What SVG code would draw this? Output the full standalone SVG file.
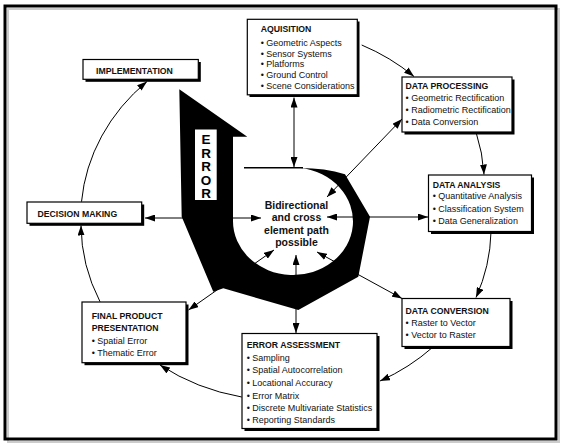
<svg xmlns="http://www.w3.org/2000/svg" width="569" height="447" viewBox="0 0 569 447">
<defs>
<marker id="ah" viewBox="0 0 10 7" refX="10" refY="3.5" markerWidth="10" markerHeight="7" markerUnits="userSpaceOnUse" orient="auto-start-reverse">
<path d="M0,0 L10,3.5 L0,7 z" fill="#000"/>
</marker>
<style>
.t{font-family:"Liberation Sans",Arial,sans-serif;font-weight:bold;font-size:8.7px;fill:#111}
.i{font-family:"Liberation Sans",Arial,sans-serif;font-size:9px;fill:#111}
.c{font-family:"Liberation Sans",Arial,sans-serif;font-weight:bold;font-size:10.5px;fill:#111;text-anchor:middle}
.e{font-family:"Liberation Sans",Arial,sans-serif;font-weight:bold;font-size:13.5px;fill:#000;text-anchor:middle}
.box{fill:#fff;stroke:#000;stroke-width:1.2}
.sh{fill:#000}
.arc{fill:none;stroke:#000;stroke-width:1;marker-end:url(#ah)}
.two{fill:none;stroke:#000;stroke-width:1;marker-start:url(#ah);marker-end:url(#ah)}
</style>
</defs>
<rect width="569" height="447" fill="#fff"/>
<rect x="8" y="9" width="551" height="433" fill="none" stroke="#ccc" stroke-width="2"/>
<rect x="5" y="6" width="551" height="433" fill="none" stroke="#000" stroke-width="3"/>

<g id="error-arrow">
<path d="M179.3,89.3 L247.3,136.7 L233,136.7 L233,221 A60,53.7 0 1 0 300.3,168 Q325,168 345,174.3 L370,216.7 L358.3,276.7 L298.3,310 L223.3,288.3 L213.3,291.7 L181.7,216.7 Z" fill="#000"/>
<rect x="195" y="129.5" width="21.7" height="70.5" fill="#fff"/>
<text class="e" x="206" y="144">E</text>
<text class="e" x="206" y="157.5">R</text>
<text class="e" x="206" y="171">R</text>
<text class="e" x="206" y="184.5">O</text>
<text class="e" x="206" y="198">R</text>
</g>

<g id="center-label">
<text class="c" x="296.5" y="208.5">Bidirectional</text>
<text class="c" x="296.5" y="221">and cross</text>
<text class="c" x="296.5" y="233.5">element path</text>
<text class="c" x="296.5" y="246">possible</text>
</g>

<g id="connectors">
<path class="arc" d="M361.7,45 A206,185 0 0 1 414,76.5"/>
<path class="arc" d="M476,132 A206,185 0 0 1 484,174.5"/>
<path class="arc" d="M491,232 A206,185 0 0 1 476,297.5"/>
<path class="arc" d="M433,347 A206,185 0 0 1 380,381"/>
<path class="arc" d="M241.7,397 A206,185 0 0 1 160,365"/>
<path class="arc" d="M100,301.7 A206,185 0 0 1 81,225.5"/>
<path class="arc" d="M81.5,201.7 A206,185 0 0 1 147,81.5"/>
<path d="M244,167.7 L303,167.7" stroke="#000" stroke-width="1.4"/>
<path class="two" d="M294,97.5 L294,167"/>
<path class="two" d="M402,119 L327,197"/>
<path class="two" d="M428,217 L327,217"/>
<path class="two" d="M402,298.5 L317,252"/>
<path class="two" d="M296,255 L296,333"/>
<path class="two" d="M274,250 L188.5,310"/>
<path class="two" d="M261,218 L145,218"/>
</g>

<g id="aquisition">
<rect class="sh" x="249.5" y="21.5" width="110" height="75.5"/>
<rect class="box" x="247.3" y="19.3" width="110" height="75.5"/>
<text class="t" x="260.7" y="32">AQUISITION</text>
<text class="i" x="260.7" y="46">• Geometric Aspects</text>
<text class="i" x="260.7" y="56.6">• Sensor Systems</text>
<text class="i" x="260.7" y="67.3">• Platforms</text>
<text class="i" x="260.7" y="77.8">• Ground Control</text>
<text class="i" x="260.7" y="88.5">• Scene Considerations</text>
</g>

<g id="data-processing">
<rect class="sh" x="404.5" y="79.5" width="110" height="55"/>
<rect class="box" x="402" y="77" width="110" height="55"/>
<text class="t" x="405.5" y="89">DATA PROCESSING</text>
<text class="i" x="405.5" y="100.5">• Geometric Rectification</text>
<text class="i" x="405.5" y="112.8">• Radiometric Rectification</text>
<text class="i" x="405.5" y="125">• Data Conversion</text>
</g>

<g id="data-analysis">
<rect class="sh" x="431" y="177.5" width="103" height="56.5"/>
<rect class="box" x="428.5" y="175" width="103" height="56.5"/>
<text class="t" x="432.7" y="188">DATA ANALYSIS</text>
<text class="i" x="432.7" y="199">• Quantitative Analysis</text>
<text class="i" x="432.7" y="211.7">• Classification System</text>
<text class="i" x="432.7" y="224.3">• Data Generalization</text>
</g>

<g id="data-conversion">
<rect class="sh" x="404.5" y="301" width="108" height="48"/>
<rect class="box" x="402" y="298.5" width="108" height="48"/>
<text class="t" x="405.5" y="313.5">DATA CONVERSION</text>
<text class="i" x="405.5" y="326">• Raster to Vector</text>
<text class="i" x="405.5" y="337.8">• Vector to Raster</text>
</g>

<g id="error-assessment">
<rect class="sh" x="244.5" y="336" width="135" height="95"/>
<rect class="box" x="242" y="333.5" width="135" height="95"/>
<text class="t" x="246.7" y="347.5">ERROR ASSESSMENT</text>
<text class="i" x="246.7" y="361">• Sampling</text>
<text class="i" x="246.7" y="373.3">• Spatial Autocorrelation</text>
<text class="i" x="246.7" y="385.6">• Locational Accuracy</text>
<text class="i" x="246.7" y="398.5">• Error Matrix</text>
<text class="i" x="246.7" y="410.8">• Discrete Multivariate Statistics</text>
<text class="i" x="246.7" y="423">• Reporting Standards</text>
</g>

<g id="final-product-presentation">
<rect class="sh" x="84.5" y="304.5" width="104" height="60.7"/>
<rect class="box" x="82" y="302" width="104" height="60.7"/>
<text class="t" x="91.7" y="318.5">FINAL PRODUCT</text>
<text class="t" x="91.7" y="331">PRESENTATION</text>
<text class="i" x="91.7" y="344">• Spatial Error</text>
<text class="i" x="91.7" y="356">• Thematic Error</text>
</g>

<g id="decision-making">
<rect class="sh" x="29.5" y="204.5" width="114.7" height="21.3"/>
<rect class="box" x="27" y="202" width="114.7" height="21.3"/>
<text class="t" x="37.5" y="216.5">DECISION MAKING</text>
</g>

<g id="implementation">
<rect class="sh" x="85.5" y="62" width="115.3" height="19.8"/>
<rect class="box" x="83" y="59.5" width="115.3" height="19.8"/>
<text class="t" x="96" y="73.5">IMPLEMENTATION</text>
</g>
</svg>
